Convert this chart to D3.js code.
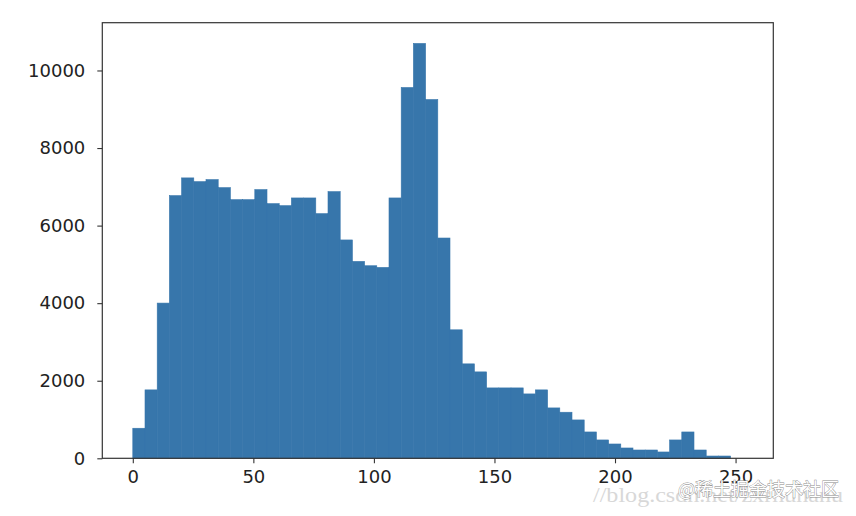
<!DOCTYPE html>
<html>
<head>
<meta charset="utf-8">
<script src="https://cdn.jsdelivr.net/npm/d3@7"></script>
<style>
  html, body { margin: 0; padding: 0; background: #ffffff; }
  svg { display: block; }
</style>
</head>
<body>
<svg id="chart" width="856" height="516"></svg>
<script>
// ---- data ----
const binStart = 0;
const binEnd = 253;
const counts = [775, 1764, 4002, 6773, 7230, 7134, 7186, 6979, 6669, 6669,
                6928, 6566, 6514, 6713, 6713, 6308, 6876, 5630, 5077, 4965,
                4922, 6713, 9561, 10697, 9251, 5680, 3313, 2435, 2228, 1815,
                1815, 1815, 1660, 1764, 1299, 1188, 989, 679, 473, 369,
                266, 214, 214, 163, 473, 679, 214, 59, 59, 0];
const xTicks = [0, 50, 100, 150, 200, 250];
const yTicks = [0, 2000, 4000, 6000, 8000, 10000];
const watermarkUrl = "//blog.csdn.net/zxrhuhanu";
const watermarkSite = "@稀土掘金技术社区";

// ---- layout ----
const plotLeft = 102.3, plotRight = 773.3, plotTop = 22.7, plotBottom = 458.3;
const svg = d3.select("#chart");
svg.append("rect").attr("width", 856).attr("height", 516).attr("fill", "#fff");

const nb = counts.length;
const binW = (binEnd - binStart) / nb;
const bins = counts.map((c, i) => ({x0: binStart + i * binW, x1: binStart + (i + 1) * binW, c}));

const span = binEnd - binStart;
const x = d3.scaleLinear().domain([binStart - 0.05 * span, binEnd + 0.05 * span]).range([plotLeft, plotRight]);
const yMax = d3.max(counts) * 1.05;
const y = d3.scaleLinear().domain([0, yMax]).range([plotBottom, plotTop]);

const barColor = "#3776ab";
svg.append("g").selectAll("rect").data(bins.filter(d => d.c > 0)).join("rect")
  .attr("x", d => x(d.x0))
  .attr("width", d => x(d.x1) - x(d.x0))
  .attr("y", d => y(d.c))
  .attr("height", d => y(0) - y(d.c))
  .attr("fill", barColor)
  .attr("stroke", barColor)
  .attr("stroke-width", 0.6);

// axes
const font = "'DejaVu Sans', sans-serif";
const xAxis = d3.axisBottom(x).tickValues(xTicks).tickSize(5).tickPadding(7).tickFormat(d3.format("d"));
const yAxis = d3.axisLeft(y).tickValues(yTicks).tickSize(5).tickPadding(12).tickFormat(d3.format("d"));

const gx = svg.append("g").attr("transform", `translate(0,${plotBottom})`).call(xAxis);
const gy = svg.append("g").attr("transform", `translate(${plotLeft},0)`).call(yAxis);
[gx, gy].forEach(g => {
  g.select(".domain").remove();
  g.selectAll(".tick line").attr("stroke", "#333").attr("stroke-width", 1.1);
  g.selectAll(".tick text").attr("fill", "#222").style("font-family", font).style("font-size", "18px");
});

// frame
svg.append("rect")
  .attr("x", plotLeft).attr("y", plotTop)
  .attr("width", plotRight - plotLeft).attr("height", plotBottom - plotTop)
  .attr("fill", "none").attr("stroke", "#333").attr("stroke-width", 1.2);

// watermarks
svg.append("text")
  .attr("x", 593).attr("y", 502)
  .attr("textLength", 250).attr("lengthAdjust", "spacingAndGlyphs")
  .style("font-family", "'Liberation Serif', serif").style("font-size", "20px")
  .attr("fill", "#d8d8d8")
  .text(watermarkUrl);
svg.append("text")
  .attr("x", 678).attr("y", 496)
  .style("font-family", "'Noto Sans CJK SC', sans-serif").style("font-size", "18px")
  .attr("fill", "#ffffff").attr("stroke", "#8a8a8a").attr("stroke-width", 0.8)
  .attr("paint-order", "stroke")
  .text(watermarkSite);
</script>
</body>
</html>
